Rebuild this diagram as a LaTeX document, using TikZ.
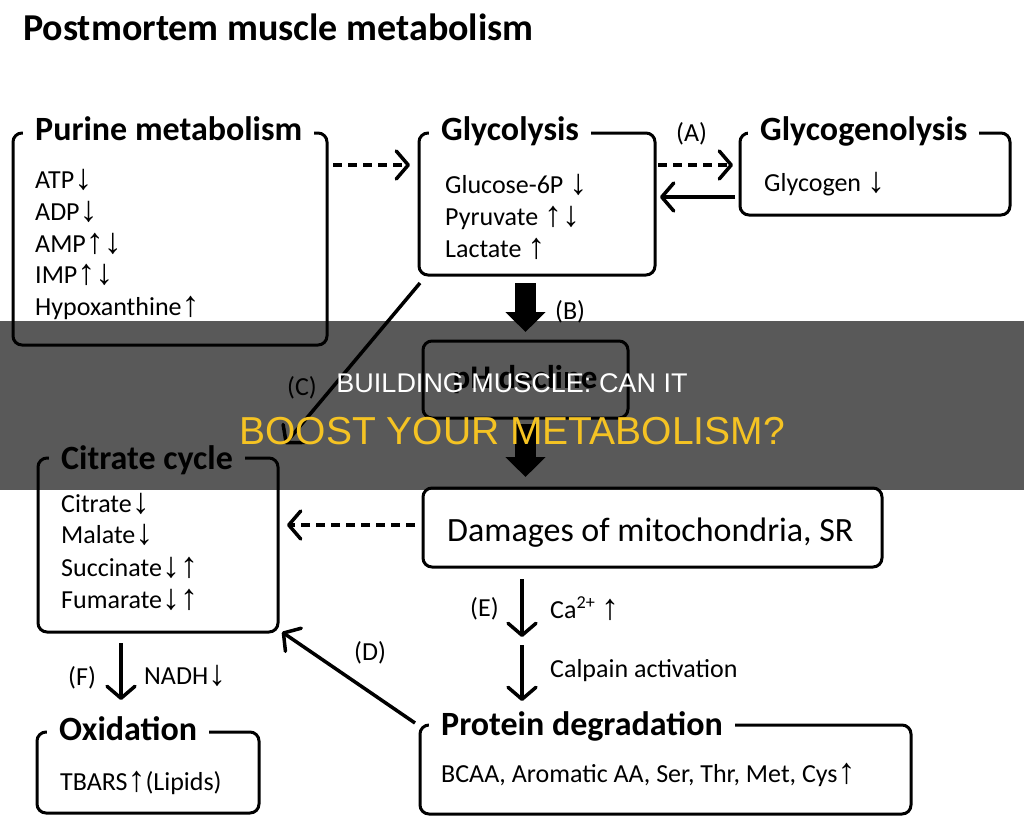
\documentclass[tikz,border=0pt]{standalone}
\usepackage{fontspec}
\setmainfont{Carlito}
\newfontfamily\arrf{Liberation Sans}
\newfontfamily\ovf{Liberation Sans}
\usetikzlibrary{arrows.meta}
\newcommand\UP{{\arrf\fontsize{36}{32}\selectfont\smash{\raisebox{-1pt}{↑}}}}
\newcommand\DN{{\arrf\fontsize{36}{32}\selectfont\smash{\raisebox{-1pt}{↓}}}}
\definecolor{ovyellow}{RGB}{245,195,35}
\begin{document}
\begin{tikzpicture}[x=1pt,y=-1pt,
  box/.style={draw, line width=3pt, rounded corners=9pt, inner sep=0pt, outer sep=0pt},
  ttl/.style={fill=white, font=\fontsize{34}{40}\selectfont\bfseries, inner xsep=12pt, inner ysep=3pt, anchor=base west},
  itm/.style={font=\fontsize{26}{32}\selectfont, inner sep=0pt, anchor=base west},
  sarr/.style={line width=3.5pt, -{Straight Barb[length=12pt,width=28pt,round]}},
  darr/.style={sarr, dash pattern=on 9pt off 6pt},
  blockarr/.style={line width=21pt, -{Triangle[length=20pt,width=39pt]}}
]
\useasboundingbox (0,0) rectangle (1024,828);
\fill[white] (0,0) rectangle (1024,828);

\node[anchor=base west, inner sep=0pt, font=\fontsize{38}{44}\selectfont\bfseries] (title) at (23,40) {Postmortem muscle metabolism};

% boxes
\node[box, minimum width=314pt, minimum height=212pt] (purine) at (170,239) {};
\node[box, minimum width=236pt, minimum height=142pt] (glyc) at (537,204) {};
\node[box, minimum width=270pt, minimum height=82pt] (glycogen) at (875,174) {};
\node[box, minimum width=205pt, minimum height=77pt] (ph) at (525.5,379.5) {};
\node[box, minimum width=459pt, minimum height=79pt] (damage) at (652.5,527.5) {};
\node[box, minimum width=240pt, minimum height=174pt] (citrate) at (158,545) {};
\node[box, minimum width=491pt, minimum height=89pt] (protein) at (665.5,769.5) {};
\node[box, minimum width=222pt, minimum height=81pt] (oxid) at (148,772.5) {};

% titles
\node[ttl] (purinet) at (23,140) {Purine metabolism};
\node[ttl] (glyct) at (429,140) {Glycolysis};
\node[ttl] (glycogent) at (748,140) {Glycogenolysis};
\node[ttl] (citratet) at (49,469) {Citrate cycle};
\node[ttl] (oxidt) at (47,740) {Oxidation};
\node[ttl] (proteint) at (429,735) {Protein degradation};

% items
\node[itm] (pu1) at (35,188) {ATP\DN};
\node[itm] (pu2) at (35,220) {ADP\DN};
\node[itm] (pu3) at (35,252) {AMP\UP\DN};
\node[itm] (pu4) at (35,283) {IMP\UP\DN};
\node[itm] (pu5) at (35,315) {Hypoxanthine\UP};
\node[itm] (gl1) at (445,193) {Glucose-6P \DN};
\node[itm] (gl2) at (445,225) {Pyruvate \UP\DN};
\node[itm] (gl3) at (445,257) {Lactate \UP};
\node[itm] (gg1) at (764,191) {Glycogen \DN};
\node[itm] (ci1) at (61,512) {Citrate\DN};
\node[itm] (ci2) at (61,543) {Malate\DN};
\node[itm] (ci3) at (61,576) {Succinate\DN\UP};
\node[itm] (ci4) at (61,608) {Fumarate\DN\UP};
\node[itm] (ox1) at (60,790) {TBARS\UP(Lipids)};
\node[itm] (pr1) at (441,782) {BCAA, Aromatic AA, Ser, Thr, Met, Cys\UP};
\node[itm, font=\fontsize{34}{40}\selectfont] (dm1) at (447,541) {Damages of mitochondria, SR};
\node[inner sep=0pt, anchor=base, font=\fontsize{33}{40}\selectfont\bfseries] (ph1) at (525,388) {pH decline};

% labels
\node[itm] (la) at (676,141) {(A)};
\node[itm] (lb) at (555,319) {(B)};
\node[itm] (lc) at (287,395) {(C)};
\node[itm] (ld) at (354,660) {(D)};
\node[itm] (le) at (470,616) {(E)};
\node[itm] (lf) at (68,685) {(F)};
\node[itm] (lca) at (550,618) {Ca\textsuperscript{2+} \UP};
\node[itm] (lcal) at (550,677) {Calpain activation};
\node[itm] (lnadh) at (144,684) {NADH\DN};

% connectors
\draw[darr, shorten <=6pt, shorten >=9pt] (purine.east |- 0,165) -- (glyc.west |- 0,165);
\draw[darr, shorten <=3pt, shorten >=7pt] (glyc.east |- 0,165) -- (glycogen.west |- 0,165);
\draw[sarr, shorten <=5pt, shorten >=5pt] (glycogen.west |- 0,197) -- (glyc.east |- 0,197);
\draw[blockarr, shorten <=8pt, shorten >=9pt] (ph.north |- glyc.south) -- (ph.north);
\draw[blockarr, shorten <=6pt, shorten >=11pt] (ph.south) -- (ph.south |- damage.north);
\draw[darr, shorten <=8pt, shorten >=9pt] (damage.west |- 0,525) -- (citrate.east |- 0,525);
\draw[sarr] ([shift={(1,8)}]glyc.south west) -- ([shift={(7,-14)}]citrate.north east);
\draw[sarr] ([shift={(-5,-2)}]protein.north west) -- ([shift={(4,0)}]citrate.south east);
\coordinate (ex) at (522,641);
\draw[sarr, shorten <=12pt, shorten >=4pt] (ex |- damage.south) -- (ex);
\draw[sarr, shorten <=4pt, shorten >=24pt] (ex) -- (ex |- protein.north);
\coordinate (fx) at (121,670);
\draw[sarr, shorten <=11pt, shorten >=32pt] (fx |- citrate.south) -- (fx |- oxid.north);

% overlay band
\node[fill=black, fill opacity=0.65, minimum width=1024pt, minimum height=169pt, inner sep=0pt, outer sep=0pt, anchor=north west] (band) at (0,321) {};
\node[font=\ovf\fontsize{27}{32}\selectfont, text=white, inner sep=0pt] (ov1) at (512,383) {BUILDING MUSCLE: CAN IT};
\node[font=\ovf\fontsize{39}{44}\selectfont, text=ovyellow, inner sep=0pt] (ov2) at (512,431) {BOOST YOUR METABOLISM?};
\end{tikzpicture}
\end{document}
